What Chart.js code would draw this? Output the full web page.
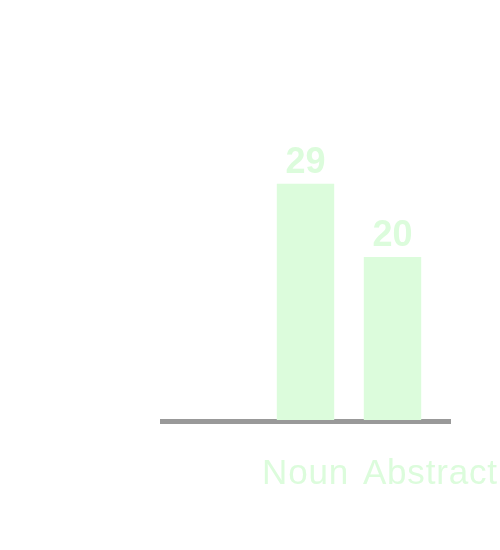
<!DOCTYPE html>
<html>
<head>
<meta charset="utf-8">
<script src="https://cdn.jsdelivr.net/npm/chart.js@4"></script>
<style>
  html, body { margin: 0; padding: 0; background: #ffffff; }
  #wrap { width: 500px; height: 550px; }
</style>
</head>
<body>
<div id="wrap"><canvas id="chart" width="500" height="550"></canvas></div>
<script>
// data
const categories = ['', 'Noun', 'Abstract'];
const counts = [0, 29, 20];

const GREEN = '#dcfcdc';
const AXIS_GRAY = '#999999';

// baseline under the bars, a bit wider than the plot
const baselinePlugin = {
  id: 'baseline',
  beforeDatasetsDraw(chart) {
    const { ctx, scales: { x, y } } = chart;
    const y0 = y.getPixelForValue(0) + 1.5;
    ctx.save();
    ctx.strokeStyle = AXIS_GRAY;
    ctx.lineWidth = 5;
    ctx.beginPath();
    ctx.moveTo(x.left - 15, y0);
    ctx.lineTo(x.right + 15, y0);
    ctx.stroke();
    ctx.restore();
  }
};

// value labels over bars + category labels that push right when they collide
const labelsPlugin = {
  id: 'labels',
  afterDatasetsDraw(chart) {
    const { ctx, scales: { x } } = chart;
    const meta = chart.getDatasetMeta(0);
    ctx.save();
    ctx.fillStyle = GREEN;

    ctx.font = 'bold 36px "Liberation Sans", Arial, sans-serif';
    ctx.textAlign = 'center';
    ctx.textBaseline = 'alphabetic';
    meta.data.forEach((bar, i) => {
      if (!counts[i]) return;
      ctx.fillText(String(counts[i]), bar.x, bar.y - 11);
    });

    ctx.font = '35px "Liberation Sans", Arial, sans-serif';
    ctx.letterSpacing = '0.8px';
    ctx.textAlign = 'left';
    let prevEnd = -Infinity;
    categories.forEach((lab, i) => {
      if (!lab) return;
      const w = ctx.measureText(lab).width;
      let left = x.getPixelForTick(i) - w / 2;
      if (left < prevEnd + 14) left = prevEnd + 14;
      ctx.fillText(lab, left, 484);
      prevEnd = left + w;
    });
    ctx.restore();
  }
};

new Chart(document.getElementById('chart'), {
  type: 'bar',
  data: {
    labels: categories,
    datasets: [{
      data: counts,
      backgroundColor: GREEN,
      borderWidth: 0,
      barPercentage: 0.66,
      categoryPercentage: 1
    }]
  },
  options: {
    responsive: false,
    animation: false,
    layout: { padding: { top: 94, bottom: 130, left: 175, right: 64 } },
    plugins: {
      legend: { display: false },
      tooltip: { enabled: false }
    },
    scales: {
      x: {
        display: false,
        grid: { display: false }
      },
      y: {
        display: false,
        min: 0,
        max: 40,
        grid: { display: false }
      }
    }
  },
  plugins: [baselinePlugin, labelsPlugin]
});
</script>
</body>
</html>
